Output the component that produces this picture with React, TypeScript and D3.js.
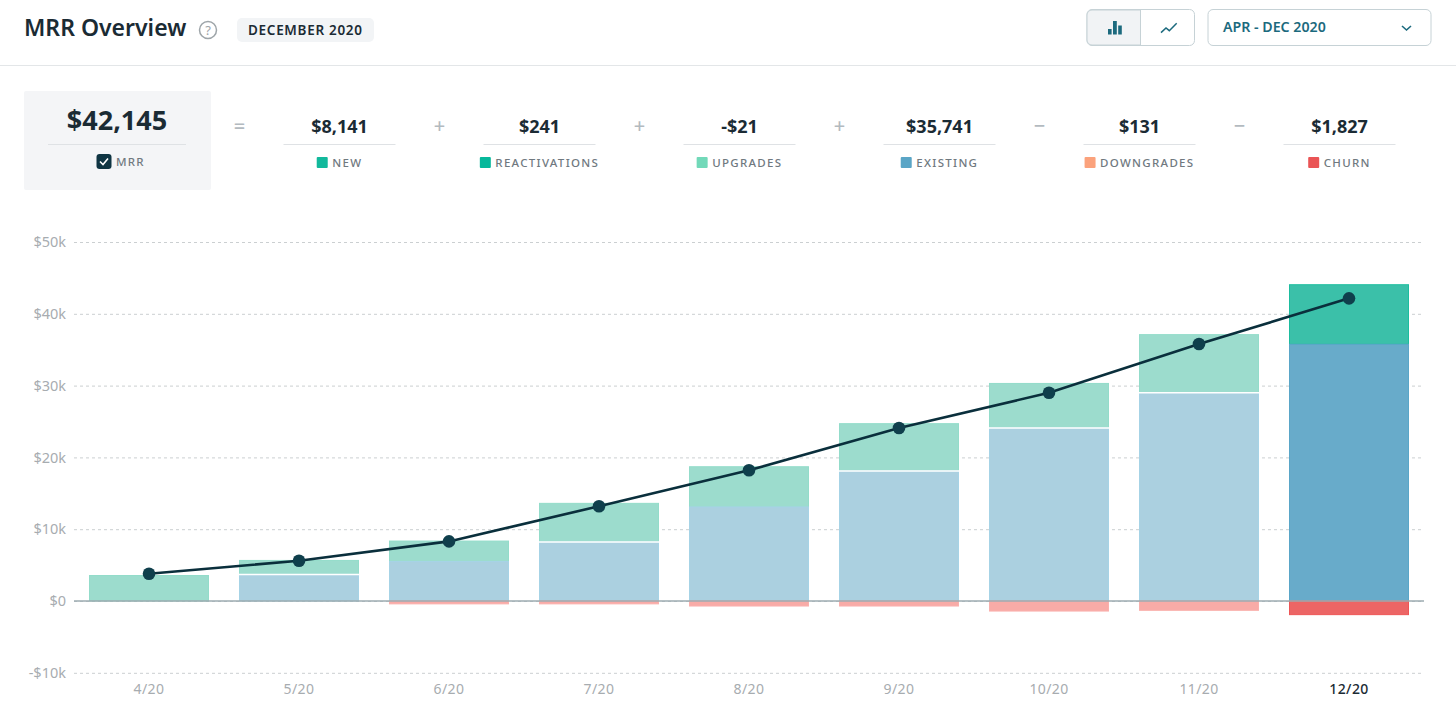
import * as d3 from 'd3';
import React, { useEffect, useRef } from 'react';

const months = ['4/20', '5/20', '6/20', '7/20', '8/20', '9/20', '10/20', '11/20', '12/20'];
// all values in $k
const existingValues = [0, 3.7, 5.5, 8.2, 13.1, 18.1, 24.1, 29, 35.75];
const newValues = [3.55, 1.95, 2.85, 5.4, 5.6, 6.6, 6.2, 8.1, 8.3];
const churnValues = [0, 0, 0.4, 0.4, 0.7, 0.7, 1.4, 1.3, 1.9];
const mrrValues = [3.8, 5.6, 8.3, 13.2, 18.2, 24.1, 29, 35.8, 42.15];
const gapMonths = ['5/20', '7/20', '9/20', '10/20', '11/20'];
const yTicks = [-10, 0, 10, 20, 30, 40, 50];

const kpiValues = ['$8,141', '$241', '-$21', '$35,741', '$131', '$1,827'];
const kpiLabels = ['NEW', 'REACTIVATIONS', 'UPGRADES', 'EXISTING', 'DOWNGRADES', 'CHURN'];
const kpiColors = ['#12b99c', '#06b89b', '#72d9b9', '#5aa5c6', '#fba27c', '#ea5455'];
const kpiOperators = ['=', '+', '+', '+', '−', '−'];

const FONT = '"Noto Sans", sans-serif';
const INK = '#1b2b34';
const TEAL = '#1c6a7e';
const margin = { left: 74, right: 1424, top: 242, bottom: 672.8 };

const drawAxes = (
   g: d3.Selection<SVGGElement, unknown, null, undefined>,
   x: d3.ScaleBand<string>,
   y: d3.ScaleLinear<number, number>,
) => {
   const yAxis = d3
      .axisLeft(y)
      .tickValues(yTicks)
      .tickSize(-(margin.right - margin.left))
      .tickPadding(8)
      .tickFormat((d) => {
         const v = +d;
         if (v === 0) return '$0';
         return v < 0 ? `-$${-v}k` : `$${v}k`;
      });
   const yG = g.append('g').attr('transform', `translate(${margin.left},0)`).call(yAxis);
   yG.select('.domain').remove();
   yG.selectAll('line')
      .attr('stroke', '#cbcfd1')
      .attr('stroke-dasharray', '3 3');
   yG.selectAll('text')
      .attr('font-family', FONT)
      .attr('font-size', 14.5)
      .attr('fill', '#a7acb0');

   const xAxis = d3.axisBottom(x).tickSize(0).tickPadding(0);
   const xG = g.append('g').attr('transform', 'translate(0,684)').call(xAxis);
   xG.select('.domain').remove();
   xG.selectAll('text')
      .attr('font-family', FONT)
      .attr('font-size', 14)
      .attr('letter-spacing', 0.4)
      .attr('font-weight', (d) => (d === '12/20' ? 500 : 400))
      .attr('fill', (d) => (d === '12/20' ? INK : '#a7acb0'));
};

const drawBars = (
   g: d3.Selection<SVGGElement, unknown, null, undefined>,
   x: d3.ScaleBand<string>,
   y: d3.ScaleLinear<number, number>,
) => {
   months.forEach((m, i) => {
      const last = i === months.length - 1;
      const bx = x(m) as number;
      const w = x.bandwidth();
      const e = existingValues[i];
      const top = e + newValues[i];

      g.append('rect')
         .attr('x', bx + 0.5)
         .attr('y', y(top))
         .attr('width', w - 1)
         .attr('height', y(e) - y(top))
         .attr('fill', last ? '#3bc0a9' : '#9cdccd')
         .attr('stroke', last ? '#1dbd9f' : '#93dcca')
         .attr('stroke-width', 1);

      if (e > 0) {
         g.append('rect')
            .attr('x', bx + 0.5)
            .attr('y', y(e))
            .attr('width', w - 1)
            .attr('height', y(0) - y(e))
            .attr('fill', last ? '#68abca' : '#abd0e0')
            .attr('stroke', last ? '#5aa6c8' : '#a6d3e6')
            .attr('stroke-width', 1);
      }
      if (gapMonths.includes(m)) {
         g.append('line')
            .attr('x1', bx)
            .attr('x2', bx + w)
            .attr('y1', y(e))
            .attr('y2', y(e))
            .attr('stroke', '#fff')
            .attr('stroke-width', 1.5);
      }
      if (churnValues[i] > 0) {
         g.append('rect')
            .attr('x', bx + 0.5)
            .attr('y', y(0))
            .attr('width', w - 1)
            .attr('height', y(-churnValues[i]) - y(0))
            .attr('fill', last ? '#ec6565' : '#f8aba7')
            .attr('stroke', last ? '#ee5556' : '#fab0ad')
            .attr('stroke-width', 1);
      }
   });

   g.append('line')
      .attr('x1', margin.left)
      .attr('x2', margin.right)
      .attr('y1', y(0))
      .attr('y2', y(0))
      .attr('stroke', '#9cabb0')
      .attr('stroke-width', 1.3);
};

const drawLine = (
   g: d3.Selection<SVGGElement, unknown, null, undefined>,
   x: d3.ScaleBand<string>,
   y: d3.ScaleLinear<number, number>,
) => {
   const cx = (_: number, i: number) => (x(months[i]) as number) + x.bandwidth() / 2;
   const lineGen = d3.line<number>().x(cx).y((v) => y(v));
   g.append('path')
      .datum(mrrValues)
      .attr('fill', 'none')
      .attr('stroke', '#0a2f3c')
      .attr('stroke-width', 2.6)
      .attr('d', lineGen);
   g.selectAll('circle.mrr')
      .data(mrrValues)
      .enter()
      .append('circle')
      .attr('class', 'mrr')
      .attr('cx', cx)
      .attr('cy', (v) => y(v))
      .attr('r', 6.3)
      .attr('fill', '#0f3f4c');
};

const App = () => {
   const ref = useRef<SVGGElement | null>(null);
   const legendRef = useRef<SVGGElement | null>(null);

   useEffect(() => {
      if (!ref.current) return;
      const g = d3.select(ref.current);
      g.selectAll('*').remove();

      const x = d3
         .scaleBand<string>()
         .domain(months)
         .range([margin.left, margin.right])
         .paddingInner(0.2)
         .paddingOuter(0.1);
      const y = d3.scaleLinear().domain([-10, 50]).range([margin.bottom, margin.top]);

      drawAxes(g, x, y);
      drawBars(g, x, y);
      drawLine(g, x, y);

      // centre swatch + label under each figure, label widths are only known here
      if (legendRef.current) {
         d3.select(legendRef.current)
            .selectAll<SVGGElement, unknown>('g')
            .each(function (_, i) {
               const box = this.getBBox();
               const cx = 339.5 + i * 200;
               d3.select(this).attr('transform', `translate(${cx - box.width / 2},0)`);
            });
      }
   }, []);

   return (
      <svg
         width={1456}
         height={728}
         style={{ position: 'absolute', left: 0, top: 0, background: '#fff' }}
         fontFamily={FONT}
      >
         {/* header */}
         <text x={24} y={36} fontSize={23} fontWeight={600} fill={INK}>MRR Overview</text>
         <circle cx={208} cy={30} r={8.5} fill="none" stroke="#9ea5a9" strokeWidth={1.5} />
         <text x={208} y={35} fontSize={13} fill="#9ea5a9" textAnchor="middle">?</text>
         <rect x={237} y={18} width={137} height={24} rx={5} fill="#f2f4f6" />
         <text x={248} y={34.5} fontSize={13.5} fontWeight={600} letterSpacing={0.7} fill={INK}>DECEMBER 2020</text>

         <rect x={1087} y={9.5} width={107.5} height={36} rx={5} fill="#fff" stroke="#c6d2d6" />
         <path d="M1140.5 10 H1092 a5 5 0 0 0 -5 5 V40 a5 5 0 0 0 5 5 H1140.5 Z" fill="#f1f3f5" stroke="#c6d2d6" />
         <path d="M1108 29h3.6v5.5h-3.6z M1113 21h3.8v13.5h-3.8z M1118.2 25.5h3.6v9h-3.6z" fill={TEAL} />
         <path d="M1161 32.6 L1166 28 L1169.3 30.7 L1176.7 23.3" fill="none" stroke={TEAL} strokeWidth={1.5} />
         <rect x={1208} y={9.5} width={223} height={36} rx={5} fill="#fff" stroke="#c6d2d6" />
         <text x={1223} y={32} fontSize={14.2} fontWeight={600} fill={TEAL}>APR - DEC 2020</text>
         <path d="M1402 26 L1406.5 30 L1411 26" fill="none" stroke={TEAL} strokeWidth={1.6} />
         <line x1={0} x2={1456} y1={65.5} y2={65.5} stroke="#e3e6e8" />

         {/* total */}
         <rect x={24} y={91} width={187} height={99} rx={2} fill="#f4f5f7" />
         <text x={117} y={130} fontSize={27} fontWeight={700} fill={INK} textAnchor="middle">$42,145</text>
         <line x1={48} x2={186} y1={144.5} y2={144.5} stroke="#dfe2e5" />
         <rect x={96.5} y={154} width={15} height={15} rx={3} fill="#0f3543" />
         <path d="M100 161.5 L103 164.5 L108 158.5" fill="none" stroke="#fff" strokeWidth={1.6} />
         <text x={116} y={166} fontSize={11.5} fontWeight={500} letterSpacing={1.2} fill="#70797f">MRR</text>

         {/* components */}
         {kpiValues.map((v, i) => {
            const cx = 339.5 + i * 200;
            return (
               <g key={kpiLabels[i]}>
                  <text x={cx - 100} y={133} fontSize={20} fontWeight={500} fill="#b3babf" textAnchor="middle">{kpiOperators[i]}</text>
                  <text x={cx} y={132.5} fontSize={18} fontWeight={700} fill={INK} textAnchor="middle">{v}</text>
                  <line x1={cx - 56} x2={cx + 56} y1={144.5} y2={144.5} stroke="#dfe2e5" />
               </g>
            );
         })}
         <g ref={legendRef}>
            {kpiLabels.map((label, i) => (
               <g key={label}>
                  <rect x={0} y={157} width={11} height={11} rx={1} fill={kpiColors[i]} />
                  <text x={15.5} y={167} fontSize={11.5} fontWeight={500} letterSpacing={1.3} fill="#70797f">{label}</text>
               </g>
            ))}
         </g>

         <g ref={ref} />
      </svg>
   );
};

export default App;
